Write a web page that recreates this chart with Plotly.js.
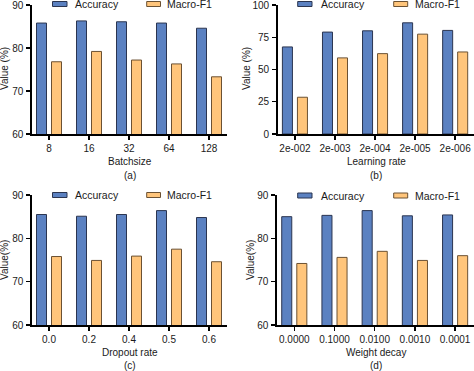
<!DOCTYPE html>
<html>
<head>
<meta charset="utf-8">
<script src="https://cdn.plot.ly/plotly-3.0.1.min.js"></script>
<style>html,body{margin:0;padding:0;background:#fff;}#chart{width:474px;height:371px;}</style>
</head>
<body>
<div id="chart"></div>
<script>
// ---- data ----
const batchSizes = ["8", "16", "32", "64", "128"];
const batchAcc = [85.8, 86.3, 86.1, 85.8, 84.6];
const batchF1 = [76.8, 79.2, 77.2, 76.3, 73.3];

const learningRates = ["2e-002", "2e-003", "2e-004", "2e-005", "2e-006"];
const lrAcc = [67.5, 79.0, 80.0, 86.2, 80.3];
const lrF1 = [28.5, 59.0, 62.3, 77.4, 63.6];

const dropoutRates = ["0.0", "0.2", "0.4", "0.5", "0.6"];
const dropAcc = [85.5, 85.1, 85.5, 86.4, 84.8];
const dropF1 = [75.8, 74.9, 75.9, 77.5, 74.6];

const weightDecays = ["0.0000", "0.1000", "0.0100", "0.0010", "0.0001"];
const wdAcc = [85.0, 85.3, 86.4, 85.2, 85.4];
const wdF1 = [74.2, 75.6, 77.0, 74.9, 76.0];

const seriesNames = ["Accuracy", "Macro-F1"];
const panelLabels = ["(a)", "(b)", "(c)", "(d)"];
const xTitles = ["Batchsize", "Learning rate", "Dropout rate", "Weight decay"];
const yTitles = ["Value (%)", "Value (%)", "Value(%)", "Value(%)"];

// ---- styles ----
const W = 474, H = 371;
const px = v => v / W;
const py = v => 1 - v / H;
const BLUE = "#5b81c1", ORANGE = "#ffc57b";
const BLUE_LINE = "#2b3550", ORANGE_LINE = "#6b5133";
const FONT = "Liberation Sans, Arial, sans-serif";
const TXT = "#1a1a1a";

const panels = [
  {cats: batchSizes, acc: batchAcc, f1: batchF1, ax: "", xdom: [32, 227], ydom: [5, 134], yr: [60, 90], dt: 10, xr: [-0.425, 4.45]},
  {cats: learningRates, acc: lrAcc, f1: lrF1, ax: "2", xdom: [277.7, 474], ydom: [5, 134], yr: [0, 100], dt: 25, xr: [-0.43, 4.47]},
  {cats: dropoutRates, acc: dropAcc, f1: dropF1, ax: "3", xdom: [32, 227], ydom: [195, 325], yr: [60, 90], dt: 10, xr: [-0.425, 4.45]},
  {cats: weightDecays, acc: wdAcc, f1: wdF1, ax: "4", xdom: [277, 474], ydom: [195, 325], yr: [60, 90], dt: 10, xr: [-0.43, 4.47]}
];

// per-panel text placement (pixels)
const titlePos = [
  {xt: 130, yt: 161, yl: 175, yv: 4, xv: 69},
  {xt: 376, yt: 161, yl: 175, yv: 246, xv: 69},
  {xt: 130, yt: 352.5, yl: 365.5, yv: 4, xv: 260},
  {xt: 376, yt: 352.5, yl: 365.5, yv: 250, xv: 260}
];
const legendPos = [
  {s1: [52.5, 67], t1: 74, s2: [146.7, 160.5], t2: 166, yc: 4},
  {s1: [297.7, 312], t1: 320, s2: [393.7, 407.7], t2: 413.5, yc: 4},
  {s1: [52.5, 67], t1: 74, s2: [146.7, 160.5], t2: 166, yc: 195},
  {s1: [297.7, 312], t1: 320, s2: [393.7, 407.7], t2: 413.5, yc: 195.5}
];

const traces = [];
const layout = {
  width: W, height: H,
  margin: {l: 0, r: 0, t: 0, b: 0},
  paper_bgcolor: "#fff", plot_bgcolor: "#fff",
  barmode: "group", bargap: 0.25, bargroupgap: 0.333,
  showlegend: false,
  font: {family: FONT, size: 10, color: TXT},
  shapes: [], annotations: []
};

panels.forEach((p, i) => {
  const xa = "x" + p.ax, ya = "y" + p.ax;
  traces.push({type: "bar", name: seriesNames[0], x: p.cats, y: p.acc, xaxis: xa, yaxis: ya,
    marker: {color: BLUE, line: {color: BLUE_LINE, width: 1}}});
  traces.push({type: "bar", name: seriesNames[1], x: p.cats, y: p.f1, xaxis: xa, yaxis: ya,
    marker: {color: ORANGE, line: {color: ORANGE_LINE, width: 1}}});
  const axCommon = {showline: true, linecolor: "#000", linewidth: 1.6, ticks: "outside", ticklen: 4,
    tickwidth: 1.4, tickcolor: "#000", showgrid: false, zeroline: false, fixedrange: true,
    ticklabeloverflow: "allow", tickfont: {family: FONT, size: 10, color: TXT}};
  layout["xaxis" + p.ax] = Object.assign({}, axCommon, {type: "category", anchor: ya,
    domain: [px(p.xdom[0]), px(p.xdom[1])], range: p.xr});
  layout["yaxis" + p.ax] = Object.assign({}, axCommon, {anchor: xa,
    domain: [py(p.ydom[1]), py(p.ydom[0])], range: p.yr, dtick: p.dt, tick0: 0, ticklabelstandoff: 1});

  const t = titlePos[i];
  layout.annotations.push({xref: "paper", yref: "paper", x: px(t.xt), y: py(t.yt), text: xTitles[i],
    showarrow: false, xanchor: "center", yanchor: "middle", font: {family: FONT, size: 10, color: TXT}});
  layout.annotations.push({xref: "paper", yref: "paper", x: px(t.xt), y: py(t.yl), text: panelLabels[i],
    showarrow: false, xanchor: "center", yanchor: "middle", font: {family: FONT, size: 10, color: TXT}});
  layout.annotations.push({xref: "paper", yref: "paper", x: px(t.yv), y: py(t.xv), text: yTitles[i],
    showarrow: false, xanchor: "center", yanchor: "middle", textangle: -90, font: {family: FONT, size: 10, color: TXT}});

  const l = legendPos[i];
  layout.shapes.push({type: "rect", xref: "paper", yref: "paper", x0: px(l.s1[0]), x1: px(l.s1[1]),
    y0: py(l.yc + 2.5), y1: py(l.yc - 2.5), fillcolor: BLUE, line: {color: BLUE_LINE, width: 1}});
  layout.shapes.push({type: "rect", xref: "paper", yref: "paper", x0: px(l.s2[0]), x1: px(l.s2[1]),
    y0: py(l.yc + 2.5), y1: py(l.yc - 2.5), fillcolor: ORANGE, line: {color: ORANGE_LINE, width: 1}});
  layout.annotations.push({xref: "paper", yref: "paper", x: px(l.t1), y: py(l.yc), text: seriesNames[0],
    showarrow: false, xanchor: "left", yanchor: "middle", xshift: -1, font: {family: FONT, size: 10.5, color: TXT}});
  layout.annotations.push({xref: "paper", yref: "paper", x: px(l.t2), y: py(l.yc), text: seriesNames[1],
    showarrow: false, xanchor: "left", yanchor: "middle", xshift: -1, font: {family: FONT, size: 10.5, color: TXT}});
});

Plotly.newPlot("chart", traces, layout, {displayModeBar: false, staticPlot: true});
</script>
</body>
</html>
